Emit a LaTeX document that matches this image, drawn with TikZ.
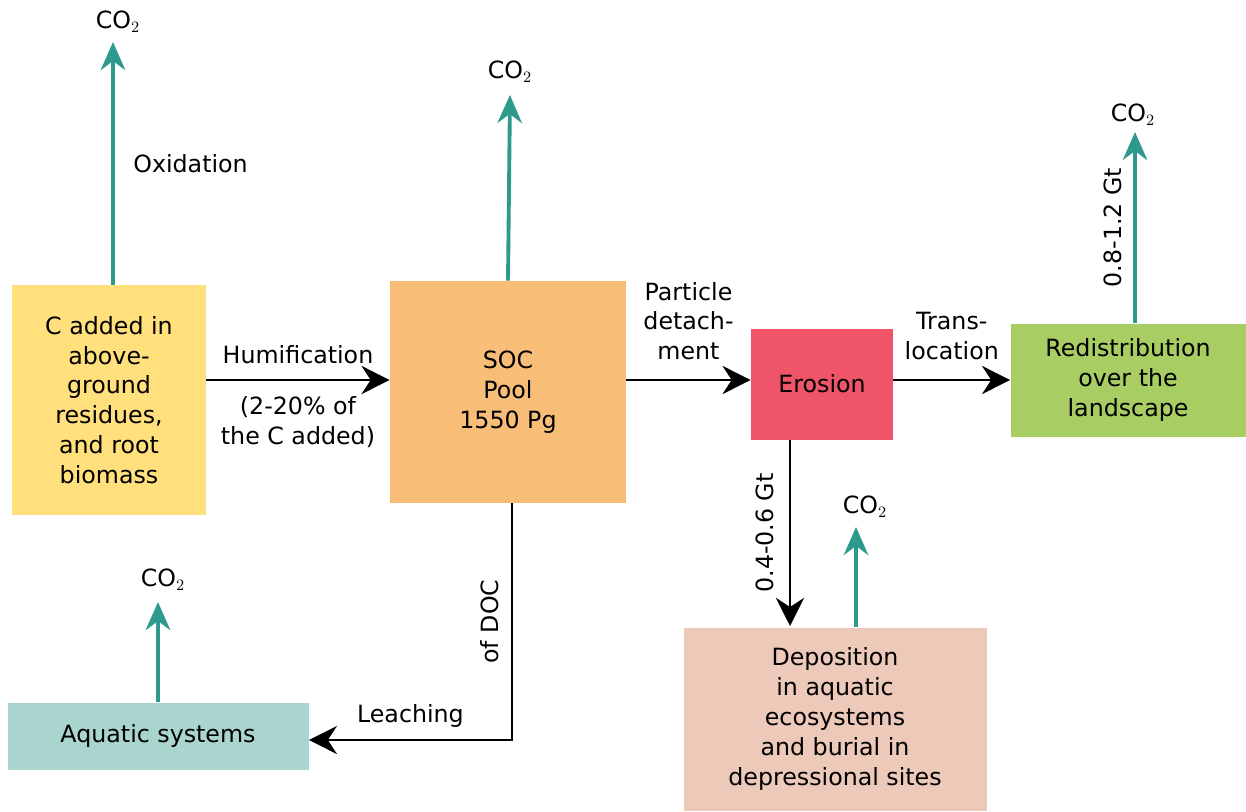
\documentclass[tikz,border=0pt]{standalone}
\usepackage{fontspec}
\setmainfont{DejaVu Sans}
\usetikzlibrary{positioning,arrows.meta}
\definecolor{boxyellow}{HTML}{FFE07C}
\definecolor{boxorange}{HTML}{F8BE78}
\definecolor{boxred}{HTML}{F05468}
\definecolor{boxgreen}{HTML}{A8CD62}
\definecolor{boxpink}{HTML}{EDC9BA}
\definecolor{boxteal}{HTML}{A9D5CE}
\definecolor{emit}{HTML}{2E9A8E}
\tikzset{
	box/.style={draw=none, align=center, inner sep=0pt},
	flow/.style={line width=1.6pt, -{Stealth[length=16pt,width=16pt]}},
	release/.style={draw=emit, line width=2.2pt, -{Stealth[length=16pt,width=14pt]}},
}
\begin{document}
\fontsize{13.5}{17}\selectfont
\begin{tikzpicture}[x=0.02cm, y=-0.02cm]
		\useasboundingbox (0,0) rectangle (1246,811);
		\node (res) [box, fill=boxyellow, minimum width=194*0.02cm, minimum height=230*0.02cm] at (109,400) {C added in\\above-\\ground\\residues,\\and root\\biomass};
		\node (soc) [box, fill=boxorange, minimum width=236*0.02cm, minimum height=222*0.02cm] at (508,392) {SOC\\Pool\\1550 Pg};
		\node (ero) [box, fill=boxred, minimum width=142*0.02cm, minimum height=111*0.02cm] at (822,384) {Erosion};
		\node (red) [box, fill=boxgreen, minimum width=235*0.02cm, minimum height=113*0.02cm] at (1128,380) {Redistribution\\over the\\landscape};
		\node (dep) [box, fill=boxpink, minimum width=303*0.02cm, minimum height=183*0.02cm] at (835,719) {Deposition\\in aquatic\\ecosystems\\and burial in\\depressional sites};
		\node (aqu) [box, fill=boxteal, minimum width=301*0.02cm, minimum height=67*0.02cm] at (158,736) {Aquatic systems};
		
		\node (co2res) at (118,22) {CO$_2$};
		\node (co2soc) at (510,72) {CO$_2$};
		\node (co2red) at (1133,115) {CO$_2$};
		\node (co2dep) at (865,507) {CO$_2$};
		\node (co2aqu) at (163,580) {CO$_2$};
		\coordinate (bend) at (512,740);
		
		\draw[release] (res.north -| 113,0) -- (113,42) node[midway, right=6pt]{Oxidation};
		\draw[release] (soc.north) -- (510,95);
		\draw[release] (red.north -| 1135,0) -- (1135,132) node[midway, left=2pt, rotate=90, anchor=south]{0.8-1.2 Gt};
		\draw[release] (dep.north -| 856,0) -- (856,527);
		\draw[release] (aqu.north) -- (158,602);
		
		\draw[flow] (res.east |- 0,380) -- (soc.west |- 0,380) node[midway, above=4pt]{Humification} node[midway, below=4pt, align=center]{(2-20\% of\\the C added)};
		\draw[flow] (soc.east |- 0,380) -- (ero.west |- 0,380) node[midway, above=6pt, align=center]{Particle\\detach-\\ment};
		\draw[flow] (ero.east |- 0,380) -- (red.west |- 0,380) node[midway, above=6pt, align=center]{Trans-\\location};
		\draw[flow] (ero.south -| 790,0) -- (790,626) node[midway, rotate=90, anchor=south, yshift=4pt]{0.4-0.6 Gt};
		\draw[flow] (soc.south -| 512,0) -- (bend) node[pos=0.5, rotate=90, anchor=south, yshift=2pt]{of DOC} -- (aqu.east |- bend) node[midway, above=2pt]{Leaching};
	\end{tikzpicture}
\end{document}
